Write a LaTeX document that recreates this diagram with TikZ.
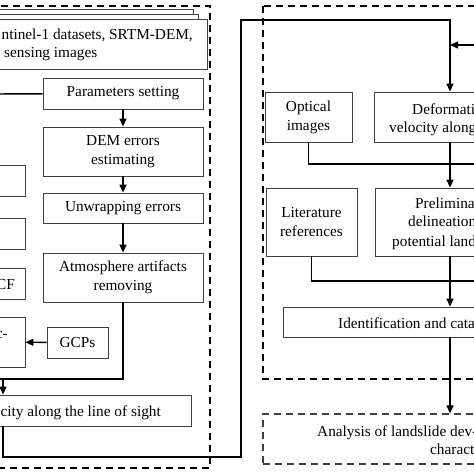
\documentclass[tikz,border=0pt]{standalone}
\usepackage{fontspec}
\setmainfont{Liberation Serif}
\usetikzlibrary{arrows.meta, positioning}

\begin{document}
\begin{tikzpicture}[x=1pt, y=-1pt, >={Triangle[length=8pt,width=7pt]},
    block/.style={draw=black!75, line width=0.8pt, rectangle, fill=white, inner sep=0pt, align=center, font=\fontsize{15.3}{19}\selectfont},
    sheet/.style={draw=black!75, line width=0.8pt, fill=white},
    group/.style={draw, dash pattern=on 7pt off 5pt, line width=1.2pt},
    frag/.style={inner sep=0pt, font=\fontsize{15.3}{19}\selectfont},
    link/.style={line width=1.4pt}]
    \useasboundingbox (0,0) rectangle (474,474);
    \clip (0,0) rectangle (474,474);

    % dashed groups
    \draw[group] (-20,6) rectangle (210,468);
    \draw[group] (263,6) rectangle (500,379);

    % input data (stacked sheets)
    \draw[sheet] (-60,9) rectangle (193,59);
    \draw[sheet] (-60,14) rectangle (198,64);
    \node[block, minimum width=267pt, minimum height=50pt] (data) at (73.5,44) {};
    \node[frag, anchor=base east] (dataA) at (193,39) {ntinel-1 datasets, SRTM-DEM,};
    \node[frag, anchor=base west] (dataB) at (4,57) {sensing images};

    % InSAR processing column
    \node[block, minimum width=160pt, minimum height=31pt] (param) at (123,93.5) {Parameters setting};
    \node[block, minimum width=160pt, minimum height=49pt] (dem) at (123,151.5) {DEM errors\\estimating};
    \node[block, minimum width=160pt, minimum height=30pt] (unwrap) at (123,208) {Unwrapping errors};
    \node[block, minimum width=160pt, minimum height=49pt] (atmo) at (123,277.5) {Atmosphere artifacts\\removing};
    \node[block, minimum width=61pt, minimum height=31pt] (gcps) at (77.5,342.5) {GCPs};

    % left column (cut)
    \node[block, minimum width=85pt, minimum height=31pt] (leftA) at (-17.5,180.5) {};
    \node[block, minimum width=85pt, minimum height=31pt] (leftB) at (-17.5,233.5) {};
    \node[block, minimum width=85pt, minimum height=31pt] (leftC) at (-17.5,283.5) {};
    \node[block, minimum width=85pt, minimum height=50pt] (leftD) at (-17.5,342) {};
    \node[frag, anchor=base east] (leftCt) at (15,289) {CF};
    \node[frag, anchor=base east] (leftDt) at (8,338) {c-};

    \node[block, minimum width=251pt, minimum height=31pt] (velo) at (65.5,410.5) {};
    \node[frag, anchor=base east] (velot) at (161,416) {city along the line of sight};

    % interpretation column
    \node[block, minimum width=87pt, minimum height=50pt] (optical) at (308.5,117) {Optical\\images};
    \node[block, minimum width=152pt, minimum height=50pt] (deform) at (450,117) {};
    \node[frag, anchor=base west] (deformA) at (412,114) {Deformati};
    \node[frag, anchor=base west] (deformB) at (389,132) {velocity along};

    \node[block, minimum width=91pt, minimum height=68pt] (liter) at (311.5,222) {Literature\\references};
    \node[block, minimum width=150pt, minimum height=68pt] (prelim) at (450,222) {};
    \node[frag, anchor=base west] (prelimA) at (415,208) {Prelimina};
    \node[frag, anchor=base west] (prelimB) at (408,226.5) {delineation};
    \node[frag, anchor=base west] (prelimC) at (392,246) {potential land};

    \node[block, minimum width=334pt, minimum height=30pt] (ident) at (450,322) {};
    \node[frag, anchor=base west] (identt) at (338,328) {Identification and cata};

    \node[block, group, minimum width=374pt, minimum height=50pt] (analysis) at (450,439) {};
    \node[frag, anchor=base west] (analysisA) at (317,436) {Analysis of landslide dev-};
    \node[frag, anchor=base west] (analysisB) at (430,454) {charact};

    % free ends
    \coordinate (inL) at (-10,94);
    \coordinate (jL) at (-10,379);
    \coordinate (j1) at (3,379);
    \coordinate (br) at (241,457);
    \coordinate (tr) at (241,20);
    \coordinate (inR) at (490,45);
    \coordinate (oR) at (490,164);
    \coordinate (lR) at (490,281);

    \draw[link] (inL) -- (param);
    \draw[link, ->] (param) -- (dem);
    \draw[link, ->] (dem) -- (unwrap);
    \draw[link, ->] (unwrap) -- (atmo);
    \draw[link] (atmo.south) |- (jL);
    \draw[link, ->] (j1) -- (j1 |- velo.north);
    \draw[link, ->] (gcps) -- (leftD);
    \draw[link, ->] (j1 |- velo.south) |- (br) -- (tr) -| (deform.north);
    \draw[link, ->] (inR) -- (inR -| deform.north);
    \draw[link] (optical.south) |- (oR);
    \draw[link, ->] (deform) -- (prelim);
    \draw[link] (liter.south) |- (lR);
    \draw[link, ->] (prelim) -- (ident);
    \draw[link, ->] (ident) -- (analysis);
\end{tikzpicture}
\end{document}
